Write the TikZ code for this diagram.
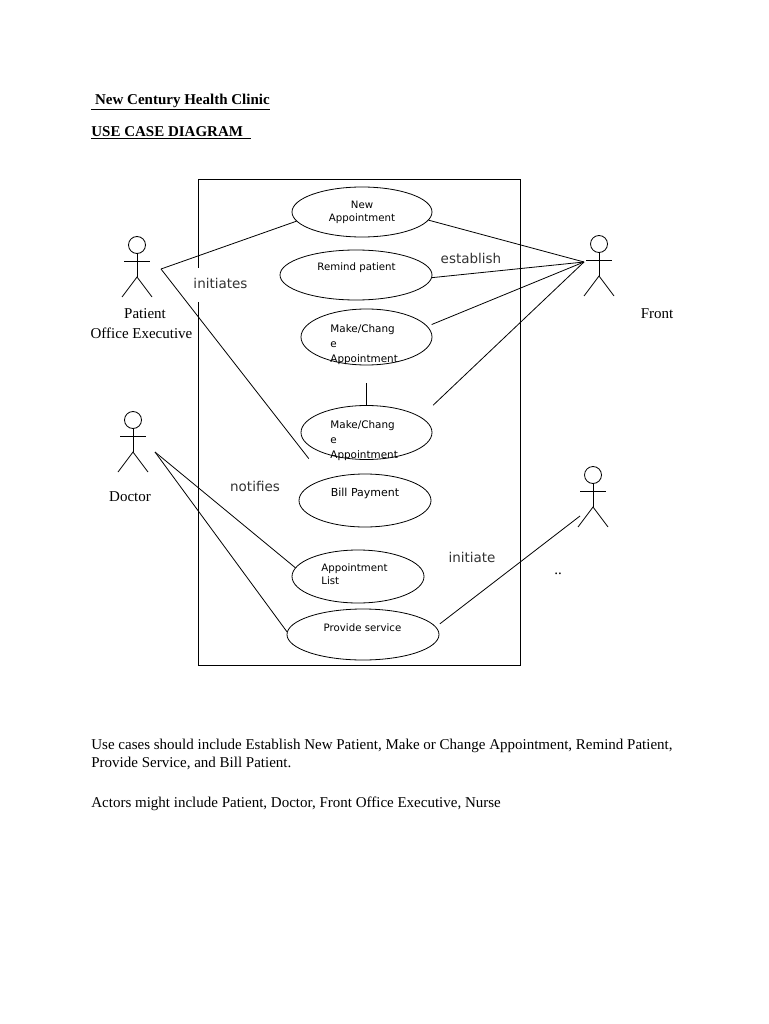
\documentclass[tikz,border=0pt]{standalone}
\usepackage{fontspec}
\setmainfont{Liberation Serif}
\newfontfamily\labelfont{DejaVu Sans}
\usetikzlibrary{shapes.geometric}
\tikzset{
  usecase/.style={draw,ellipse,inner sep=0pt},
  casetext/.style={inner sep=0pt,align=left,font=\labelfont\fontsize{10.2}{13}\selectfont},
  maketext/.style={inner sep=0pt,align=left,font=\labelfont\fontsize{10.4}{15}\selectfont},
  note/.style={inner sep=0pt,text=black!80,font=\labelfont\fontsize{13.5}{16}\selectfont},
  body/.style={inner sep=0pt,align=left,font=\fontsize{15}{18}\selectfont},
  actor/.pic={
    \draw (0,0) circle (8.5);
    \draw (-13,16) -- (13,16);
    \draw (0,8.5) -- (0,32);
    \draw (-15,52) -- (0,32) -- (15,52);
  }
}
\begin{document}
\begin{tikzpicture}[x=1pt,y=-1pt,line width=0.8pt]
  \useasboundingbox (0,0) rectangle (768,1024);
  \node[body,anchor=west] at (91,102) (clinic) {\underline{\textbf{\ New Century Health Clinic}}};
  \node[body,anchor=west] at (91,133) (heading) {\underline{\textbf{USE CASE DIAGRAM\ \ }}};
  \draw (198,179) rectangle (520.5,665);
  \node[usecase,minimum width=140,minimum height=50] at (362,212) (newappt) {};
  \node[usecase,minimum width=152,minimum height=50] at (356,275) (remind) {};
  \node[usecase,minimum width=131,minimum height=56] at (366.5,337) (makeone) {};
  \node[usecase,minimum width=131,minimum height=54] at (366.5,432.5) (maketwo) {};
  \node[usecase,minimum width=132,minimum height=53] at (365,500.5) (bill) {};
  \node[usecase,minimum width=132,minimum height=53] at (358,576.5) (applist) {};
  \node[usecase,minimum width=152,minimum height=51] at (363,634.5) (service) {};
  \pic at (137,245) {actor};
  \pic at (133,420) {actor};
  \pic at (599,244) {actor};
  \pic at (593,475) {actor};
  \coordinate (patienthand) at (161,269);
  \coordinate (doctorhand) at (155,452);
  \coordinate (fronthand) at (584,262);
  \coordinate (nursehand) at (580,516);
  \draw (patienthand) -- (newappt.188);
  \draw[shorten >=26pt] (patienthand) -- (bill.152);
  \draw (newappt.353) -- (fronthand);
  \draw (remind.358) -- (fronthand);
  \draw[shorten <=4.5pt] (makeone.10.8) -- (fronthand);
  \draw[shorten <=17pt] (maketwo.16) -- (fronthand);
  \draw[shorten <=18pt] (makeone.south) -- (maketwo.north);
  \draw (doctorhand) -- (applist.172);
  \draw (doctorhand) -- (service.178);
  \draw[shorten <=5pt] (service.6.7) -- (nursehand);
  % labels inside the cases
  \node[casetext,align=center] at (362,212) (newtext) {New\\Appointment};
  \node[casetext] at (356.5,268) (remindtext) {Remind patient};
  \node[maketext,anchor=north west] at (330,324) (makeonetext) {Make/Chang\\e\\Appointment};
  \node[maketext,anchor=north west] at (330,420) (maketwotext) {Make/Chang\\e\\Appointment};
  \node[casetext,font=\labelfont\fontsize{11}{13}\selectfont] at (365,493) (billtext) {Bill Payment};
  \node[casetext,anchor=west] at (321,574.5) (applisttext) {Appointment\\List};
  \node[casetext] at (362.5,628) (servicetext) {Provide service};
  % words on the relations
  \node[note,fill=white,minimum width=62,minimum height=34] at (220.5,285) (initiates) {\raisebox{3pt}{initiates}};
  \node[note] at (471,258) (establish) {establish};
  \node[note] at (255,486) (notifies) {notifies};
  \node[note] at (472,557) (initiate) {initiate};
  % actor names
  \node[body] at (145,314) (patient) {Patient};
  \node[body] at (141.5,333) (office) {Office Executive};
  \node[body] at (657,314) (front) {Front};
  \node[body] at (130,497) (doctor) {Doctor};
  \node[body] at (558,574) (nurse) {..};
  \node[body,anchor=north west] at (91,739) (usecases) {Use cases should include Establish New Patient, Make or Change Appointment, Remind Patient,\\Provide Service, and Bill Patient.};
  \node[body,anchor=north west] at (91,797) (actors) {Actors might include Patient, Doctor, Front Office Executive, Nurse};
\end{tikzpicture}
\end{document}
